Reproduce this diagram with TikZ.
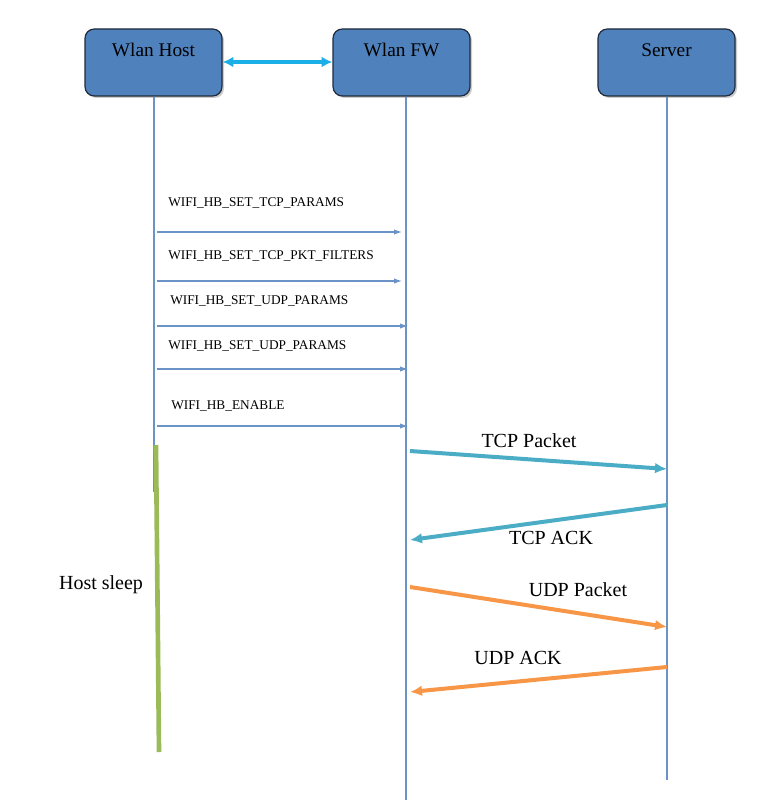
\documentclass[tikz,border=0pt]{standalone}
\usepackage{fontspec}
\setmainfont{Liberation Serif}
\usetikzlibrary{arrows.meta,shadows}
\definecolor{boxfill}{HTML}{4F81BD}
\definecolor{boxline}{HTML}{1F2A3A}
\definecolor{life}{HTML}{6C93C8}
\definecolor{tcpc}{HTML}{4BACC6}
\definecolor{udpc}{HTML}{F79646}
\definecolor{sleepc}{HTML}{9BBB59}
\definecolor{dbl}{HTML}{1AAFE6}
\tikzset{
  actor/.style={draw=boxline, line width=0.9pt, fill=boxfill, rounded corners=7pt, minimum width=102.75pt, minimum height=50.25pt, inner sep=0pt, drop shadow={shadow xshift=1.5pt, shadow yshift=-1.5pt, opacity=0.4}},
  actlabel/.style={font=\fontsize{14.5}{16}\selectfont, text=black},
  lifeline/.style={draw=life, line width=0.8pt},
  msg/.style={draw=life, line width=0.8pt, -{Latex[length=6pt,width=4pt]}},
  msglabel/.style={font=\fontsize{10}{12}\selectfont, anchor=west, inner sep=0pt},
  bigmsg/.style={line width=3pt, -{Latex[length=9pt,width=8pt]}},
  biglabel/.style={font=\fontsize{15}{17}\selectfont, inner sep=0pt}
}
\begin{document}
\begin{tikzpicture}[x=0.75pt,y=-0.75pt]
\useasboundingbox (0,0) rectangle (775,812);
% boxes
\node[actor] (host) at (153.5,62.5) {};
\node[actor] (fw) at (401.5,62.5) {};
\node[actor] (srv) at (666.5,62.5) {};
\node[actlabel] (hostt) at (153.5,50) {Wlan Host};
\node[actlabel] (fwt) at (401.5,50) {Wlan FW};
\node[actlabel] (srvt) at (666.5,50) {Server};
\draw[dbl, line width=2.5pt, {Latex[length=8pt,width=8pt]}-{Latex[length=8pt,width=8pt]}] (host.east |- 0,62) -- (fw.west |- 0,62);
% lifeline ends
\coordinate (hostend) at (154,492);
\coordinate (fwend) at (406,800);
\coordinate (srvend) at (667,780);
\draw[lifeline] (host.south -| 154,0) -- (hostend);
\draw[lifeline] (fw.south -| 406,0) -- (fwend);
\draw[lifeline] (srv.south -| 667,0) -- (srvend);
% small messages
\foreach \n/\y/\xe/\lx/\ly/\t in {a/232/402/168/203/WIFI\_HB\_SET\_TCP\_PARAMS, b/281/402/168/256/WIFI\_HB\_SET\_TCP\_PKT\_FILTERS, c/326/408/170/301/WIFI\_HB\_SET\_UDP\_PARAMS, d/369/408/168/346/WIFI\_HB\_SET\_UDP\_PARAMS, e/426/408/171/406/WIFI\_HB\_ENABLE}{
  \coordinate (s\n) at (157,\y);
  \coordinate (t\n) at (\xe,\y);
  \draw[msg] (s\n) -- (t\n);
  \node[msglabel] (l\n) at (\lx,\ly) {\t};
}
% big messages
\coordinate (p1) at (410,451); \coordinate (p2) at (667,469);
\coordinate (p3) at (667,505); \coordinate (p4) at (410,540);
\coordinate (p5) at (410,587); \coordinate (p6) at (667,627);
\coordinate (p7) at (667,667); \coordinate (p8) at (410,692);
\draw[bigmsg, tcpc] (p1) -- (p2);
\draw[bigmsg, tcpc] (p3) -- (p4);
\draw[bigmsg, udpc] (p5) -- (p6);
\draw[bigmsg, udpc] (p7) -- (p8);
\node[biglabel] (tcpl) at (529,441) {TCP Packet};
\node[biglabel] (ackl) at (551,538) {TCP ACK};
\node[biglabel] (udpl) at (578,590) {UDP Packet};
\node[biglabel] (uackl) at (518,658) {UDP ACK};
% sleep
\coordinate (z1) at (156,445); \coordinate (z2) at (159,752);
\draw[sleepc, line width=3.5pt] (z1) -- (z2);
\node[biglabel] (sleepl) at (101,585) {Host sleep};
\end{tikzpicture}
\end{document}
